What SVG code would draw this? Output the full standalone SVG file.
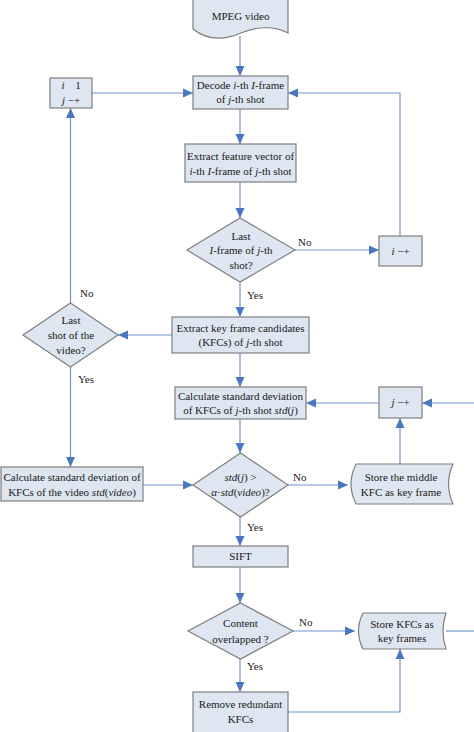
<svg xmlns="http://www.w3.org/2000/svg" width="474" height="732" viewBox="0 0 474 732" font-family="'Liberation Serif', 'Times New Roman', Times, serif">
<defs>
<style>
.n{fill:#dde6f1;stroke:#7f7f7f;stroke-width:1.2}
.c{fill:none;stroke:#6f93cc;stroke-width:1.2}
text{font-family:'Liberation Serif','Times New Roman',Times,serif;font-size:11px;fill:#1a1a1a;text-anchor:middle}
.l{text-anchor:start}
.i{font-style:italic}
</style>
<marker id="a" markerUnits="userSpaceOnUse" markerWidth="10" markerHeight="10" viewBox="0 0 10 10" refX="10" refY="5" orient="auto">
<path d="M0,0.5 L10,5 L0,9.5 Z" fill="#4a78c0"/>
</marker>
</defs>
<rect width="474" height="732" fill="#ffffff"/>
<g id="connectors">
<path class="c" d="M240,36 V76" marker-end="url(#a)"/>
<path class="c" d="M92,93 H193" marker-end="url(#a)"/>
<path class="c" d="M400,236 V93 H288" marker-end="url(#a)"/>
<path class="c" d="M240,109 V144" marker-end="url(#a)"/>
<path class="c" d="M240,182 V218" marker-end="url(#a)"/>
<path class="c" d="M295,250 H379" marker-end="url(#a)"/>
<path class="c" d="M240,282 V317" marker-end="url(#a)"/>
<path class="c" d="M172,335 H118" marker-end="url(#a)"/>
<path class="c" d="M70.5,303 V108" marker-end="url(#a)"/>
<path class="c" d="M70.5,367 V467" marker-end="url(#a)"/>
<path class="c" d="M240,353 V387" marker-end="url(#a)"/>
<path class="c" d="M379,403 H306" marker-end="url(#a)"/>
<path class="c" d="M474,403 H422" marker-end="url(#a)"/>
<path class="c" d="M400,464 V418" marker-end="url(#a)"/>
<path class="c" d="M240,419 V453" marker-end="url(#a)"/>
<path class="c" d="M143,485 H193" marker-end="url(#a)"/>
<path class="c" d="M288,485 H348" marker-end="url(#a)"/>
<path class="c" d="M240,517 V546" marker-end="url(#a)"/>
<path class="c" d="M240,567 V603" marker-end="url(#a)"/>
<path class="c" d="M293,631 H355" marker-end="url(#a)"/>
<path class="c" d="M446,631 H474"/>
<path class="c" d="M240,659 V692" marker-end="url(#a)"/>
<path class="c" d="M288,712 H400 V649" marker-end="url(#a)"/>
<text class="l" x="298" y="246">No</text>
<text class="l" x="247" y="299">Yes</text>
<text class="l" x="80" y="297">No</text>
<text class="l" x="78" y="383">Yes</text>
<text class="l" x="293" y="481">No</text>
<text class="l" x="247" y="531">Yes</text>
<text class="l" x="299" y="626">No</text>
<text class="l" x="247" y="670">Yes</text>
</g>
<g id="mpeg">
<path class="n" d="M193,-2 V29 C208,41 225,40 241,33 C257,26 275,26 288,33 V-2 Z"/>
<text x="240.5" y="20">MPEG video</text>
</g>
<g id="decode">
<rect class="n" x="193" y="76" width="95" height="33"/>
<text x="240.5" y="89">Decode <tspan class="i">i</tspan>-th <tspan class="i">I</tspan>-frame</text>
<text x="240.5" y="103">of <tspan class="i">j</tspan>-th shot</text>
</g>
<g id="init">
<rect class="n" x="50" y="78" width="42" height="30"/>
<text x="63" y="89" class="i">i</text>
<text x="78" y="89">1</text>
<text x="71" y="104"><tspan class="i">j</tspan> −+</text>
</g>
<g id="extract">
<rect class="n" x="185" y="144" width="111" height="38"/>
<text x="240.5" y="160">Extract feature vector of</text>
<text x="240.5" y="175"><tspan class="i">i</tspan>-th <tspan class="i">I</tspan>-frame of <tspan class="i">j</tspan>-th shot</text>
</g>
<g id="lastframe">
<path class="n" d="M240,218 L295,250 L240,282 L187,250 Z"/>
<text x="241" y="240">Last</text>
<text x="241" y="254"><tspan class="i">I</tspan>-frame of <tspan class="i">j</tspan>-th</text>
<text x="241" y="269">shot?</text>
</g>
<g id="iinc">
<rect class="n" x="379" y="236" width="43" height="30"/>
<text x="400.5" y="255"><tspan class="i">i</tspan> −+</text>
</g>
<g id="kfc">
<rect class="n" x="172" y="317" width="137" height="36"/>
<text x="240.5" y="332">Extract key frame candidates</text>
<text x="240.5" y="346">(KFCs) of <tspan class="i">j</tspan>-th shot</text>
</g>
<g id="lastshot">
<path class="n" d="M70.5,303 L118,335 L70.5,367 L23,335 Z"/>
<text x="71" y="324">Last</text>
<text x="71" y="339">shot of the</text>
<text x="71" y="354">video?</text>
</g>
<g id="stdj">
<rect class="n" x="175" y="387" width="131" height="32"/>
<text x="240.5" y="400">Calculate standard deviation</text>
<text x="240.5" y="414">of KFCs of <tspan class="i">j</tspan>-th shot <tspan class="i">std</tspan>(<tspan class="i">j</tspan>)</text>
</g>
<g id="jinc">
<rect class="n" x="379" y="387" width="43" height="31"/>
<text x="400.5" y="406"><tspan class="i">j</tspan> −+</text>
</g>
<g id="stdvideo">
<rect class="n" x="1" y="467" width="142" height="34"/>
<text x="72" y="481">Calculate standard deviation of</text>
<text x="72" y="496">KFCs of the video <tspan class="i">std</tspan>(<tspan class="i">video</tspan>)</text>
</g>
<g id="compare">
<path class="n" d="M240.5,453 L288,485 L240.5,517 L193,485 Z"/>
<text x="240.5" y="481"><tspan class="i">std</tspan>(<tspan class="i">j</tspan>) &gt;</text>
<text x="240.5" y="496"><tspan class="i">α</tspan>·<tspan class="i">std</tspan>(<tspan class="i">video</tspan>)?</text>
</g>
<g id="storemiddle">
<path class="n" d="M356,464 H453 Q444,484 453,504 H356 Q346,484 356,464 Z"/>
<text x="401" y="481">Store the middle</text>
<text x="401" y="496">KFC as key frame</text>
</g>
<g id="sift">
<rect class="n" x="193" y="546" width="95" height="21"/>
<text x="240.5" y="560">SIFT</text>
</g>
<g id="overlap">
<path class="n" d="M240.5,603 L293,631 L240.5,659 L188,631 Z"/>
<text x="240.5" y="627">Content</text>
<text x="240.5" y="643">overlapped ?</text>
</g>
<g id="storekfc">
<path class="n" d="M363,613 H446 Q440,631 446,649 H363 Q354,631 363,613 Z"/>
<text x="402" y="628">Store KFCs as</text>
<text x="402" y="642">key frames</text>
</g>
<g id="remove">
<rect class="n" x="193" y="692" width="95" height="45"/>
<text x="240.5" y="708">Remove redundant</text>
<text x="240.5" y="723">KFCs</text>
</g>
</svg>
